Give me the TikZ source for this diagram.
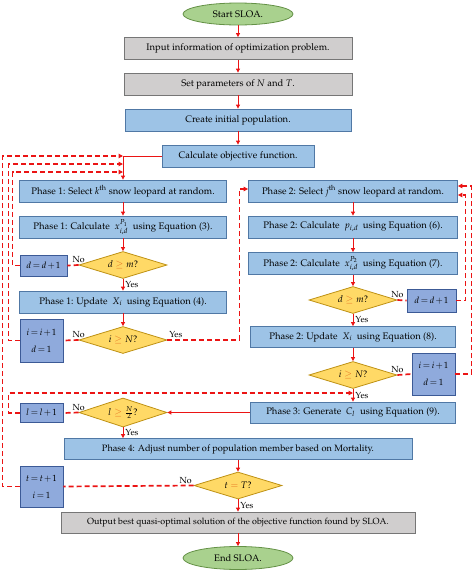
\documentclass[tikz,border=0pt]{standalone}
\usepackage[T1]{fontenc}
\usepackage{mathpazo}
\usetikzlibrary{shapes.geometric,arrows.meta}
\definecolor{greyfill}{RGB}{208,206,206}
\definecolor{greyline}{RGB}{118,118,118}
\definecolor{bluefill}{RGB}{157,195,230}
\definecolor{blueline}{RGB}{80,120,165}
\definecolor{cntfill}{RGB}{143,170,220}
\definecolor{cntline}{RGB}{60,90,150}
\definecolor{condfill}{RGB}{255,217,102}
\definecolor{condline}{RGB}{190,145,20}
\definecolor{termfill}{RGB}{169,209,142}
\definecolor{termline}{RGB}{100,145,70}
\definecolor{flowred}{RGB}{235,20,20}
\definecolor{relop}{RGB}{230,110,30}
\newcommand{\geop}{\mathrel{\textcolor{relop}{\geq}}}
\newcommand{\eqop}{\mathrel{\textcolor{relop}{=}}}
\newcommand{\tightmath}{\medmuskip=2mu\relax\thickmuskip=3mu\relax}
\begin{document}
\begin{tikzpicture}[x=1pt,y=-1pt,
  every node/.style={font=\fontsize{9.5}{11}\selectfont, inner sep=0pt},
  term/.style={ellipse, draw=termline, fill=termfill, line width=0.8pt, minimum width=110pt, minimum height=22pt},
  greybox/.style={draw=greyline, fill=greyfill, line width=0.8pt, minimum height=22pt},
  bluebox/.style={draw=blueline, fill=bluefill, line width=0.8pt, minimum height=22pt},
  cntbox/.style={draw=cntline, fill=cntfill, line width=0.8pt, minimum width=43pt, align=center,
    font=\fontsize{9}{17}\selectfont\tightmath},
  cond/.style={diamond, aspect=3.4, draw=condline, fill=condfill, line width=0.8pt, minimum width=88pt, minimum height=27pt},
  flow/.style={draw=flowred, line width=0.9pt, -{Triangle[length=4pt,width=4pt]}},
  back/.style={draw=flowred, line width=1.7pt, dash pattern=on 5pt off 3pt, -{Triangle[length=4.5pt,width=4.5pt]}},
  side/.style={draw=flowred, line width=1.7pt, dash pattern=on 5pt off 3pt},
  lab/.style={font=\fontsize{8.8}{10}\selectfont, inner sep=1pt}]
\useasboundingbox (0,0) rectangle (474,571);
% main column
\node[term] (start) at (238,14) {Start SLOA.};
\node[greybox, minimum width=228pt] (input) at (238,48.5) {Input information of optimization problem.};
\node[greybox, minimum width=228pt] (setp) at (238,84) {Set parameters of $N$ and $T$.};
\node[bluebox, minimum width=226pt] (create) at (238,120) {Create initial population.};
\node[bluebox, minimum width=152pt] (objf) at (238,156) {Calculate objective function.};
% phase 1
\node[bluebox, minimum width=207pt] (p1sel) at (123,191) {Phase 1: Select $k^{\mathrm{th}}$ snow leopard at random.};
\node[bluebox, minimum width=207pt] (p1calc) at (123,227) {Phase 1: Calculate \ $x_{i,d}^{P_1}$ \ using Equation (3).};
\node[cond] (p1dm) at (123,265) {$d\geop m$?};
\node[cntbox, minimum width=47pt, minimum height=21pt] (p1dd) at (43.5,265.5) {$d=d+1$};
\node[bluebox, minimum width=207pt] (p1upd) at (123,302) {Phase 1: Update \ $X_i$ \ using Equation (4).};
\node[cond] (p1iN) at (123,340) {$i\geop N$?};
\node[cntbox, minimum height=43pt] (p1ii) at (41.5,340.5) {$i=i+1$\\$d=1$};
% phase 2
\node[bluebox, minimum width=209pt] (p2sel) at (353,191) {Phase 2: Select $j^{\mathrm{th}}$ snow leopard at random.};
\node[bluebox, minimum width=209pt] (p2calcp) at (353,227) {Phase 2: Calculate \ $p_{i,d}$ \ using Equation (6).};
\node[bluebox, minimum width=209pt] (p2calcx) at (353,263.5) {Phase 2: Calculate \ $x_{i,d}^{P_2}$ \ using Equation (7).};
\node[cond] (p2dm) at (353,300) {$d\geop m$?};
\node[cntbox, minimum width=49pt, minimum height=23pt] (p2dd) at (431.5,300.5) {$d=d+1$};
\node[bluebox, minimum width=205pt, minimum height=21pt] (p2upd) at (353,337) {Phase 2: Update \ $X_i$ \ using Equation (8).};
\node[cond] (p2iN) at (353,375) {$i\geop N$?};
\node[cntbox, minimum height=42pt] (p2ii) at (433.5,374) {$i=i+1$\\$d=1$};
% phase 3 and 4
\node[bluebox, minimum width=205pt, minimum height=21pt] (p3) at (353,412.5) {Phase 3: Generate \ $C_l$ \ using Equation (9).};
\node[cond, minimum height=29pt] (lN2) at (123,412.5) {$l\geop \frac{N}{2}$?};
\node[cntbox, minimum height=19pt] (ll) at (41.5,413) {$l=l+1$};
\node[bluebox, minimum width=348pt, minimum height=21pt, font=\fontsize{9.2}{11}\selectfont] (p4) at (238,449) {Phase 4: Adjust number of population member based on Mortality.};
\node[cond] (tT) at (238,485.5) {$t\eqop T$?};
\node[cntbox, minimum height=41pt] (tt) at (41.5,486.5) {$t=t+1$\\$i=1$};
\node[greybox, minimum width=354pt, minimum height=21pt, font=\fontsize{8.9}{11}\selectfont] (out) at (238,522.5) {Output best quasi-optimal solution of the objective function found by SLOA.};
\node[term, minimum height=23pt] (finish) at (238,558) {End SLOA.};
% junctions
\coordinate (j0) at (123,156);
\coordinate (j1) at (123,164);
\coordinate (j2) at (123,172);
\coordinate (j3) at (353,393);
% forward flow
\draw[flow] (start) -- (input);
\draw[flow] (input) -- (setp);
\draw[flow] (setp) -- (create);
\draw[flow] (create) -- (objf);
\draw[flow] (objf.west) -| (p1sel.north);
\draw[flow] (p1sel) -- (p1calc);
\draw[flow] (p1calc) -- (p1dm);
\draw[flow] (p1dm) -- node[lab, right, xshift=1pt]{Yes} (p1upd);
\draw[flow] (p1upd) -- (p1iN);
\draw[flow] (p2sel) -- (p2calcp);
\draw[flow] (p2calcp) -- (p2calcx);
\draw[flow] (p2calcx) -- (p2dm);
\draw[flow] (p2dm) -- node[lab, right, xshift=1pt]{Yes} (p2upd);
\draw[flow] (p2upd) -- (p2iN);
\draw[flow] (p2iN) -- node[lab, right, xshift=1pt]{Yes} (p3);
\draw[flow] (p3) -- (lN2);
\draw[flow] (lN2.south) -- node[lab, right, xshift=1pt]{Yes} (lN2.south |- p4.north);
\draw[flow] (p4) -- (tT);
\draw[flow] (tT) -- node[lab, right, xshift=1pt]{Yes} (out);
\draw[flow] (out) -- (finish);
% no branches
\draw[side] (p1dm.west) -- node[lab, pos=0, above]{No} (p1dd.east);
\draw[side] (p1iN.west) -- node[lab, pos=0, above]{No} (p1ii.east);
\draw[side] (p2dm.east) -- node[lab, pos=0, above]{No} (p2dd.west);
\draw[side] (p2iN.east) -- node[lab, pos=0, above]{No} (p2ii.west);
\draw[side] (lN2.west) -- node[lab, pos=0, above]{No} (ll.east);
\draw[side] (tT.west) -- node[lab, pos=0, above left]{No} (tt.east);
% loops back
\draw[back] (tt.west) -- ++(-17,0) |- (j0);
\draw[back] (p1ii.west) -- ++(-11,0) |- (j1);
\draw[back] (p1dd.west) -- ++(-7,0) |- (j2);
\draw[back] (p1iN.east) -- node[lab, pos=0, above right]{Yes} ++(72,0) |- ([yshift=2pt]p2sel.west);
\draw[back] (p2dd.east) -- ++(9,0) |- ([yshift=-4pt]p2sel.east);
\draw[back] (p2ii.east) -- ++(16,0) |- ([yshift=5pt]p2sel.east);
\draw[back] (ll.west) -- ++(-11,0) |- (j3);
\end{tikzpicture}
\end{document}
